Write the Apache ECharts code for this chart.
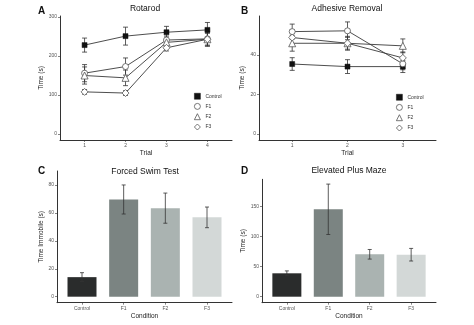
<!DOCTYPE html>
<html><head><meta charset="utf-8">
<script src="https://cdn.jsdelivr.net/npm/echarts@6/dist/echarts.min.js"></script>
<style>html,body{margin:0;padding:0;background:#fff}#c{width:474px;height:325px}</style>
</head><body><div id="c"></div>
<script>
// ---- Data ----
const trialsA = [1, 2, 3, 4];
const rotControl = [228, 251, 261, 267];
const rotControlErr = [18, 23, 15, 19];
const rotF1 = [156, 173, 241, 244];
const rotF1Err = [22, 22, 10, 18];
const rotF2 = [150, 144, 235, 243];
const rotF2Err = [22, 20, 10, 18];
const rotF3 = [108, 105, 221, 243];
const rotF3Err = [6, 6, 8, 15];

const trialsB = [1, 2, 3];
const adhControl = [35.4, 34.1, 34.1];
const adhControlErr = [3.2, 3.5, 3];
const adhF1 = [51.8, 52.2, 35.5];
const adhF1Err = [3.8, 4.5, 3];
const adhF2 = [45.9, 45.9, 44.6];
const adhF2Err = [4, 3.5, 3.5];
const adhF3 = [48.8, 45.9, 38.5];
const adhF3Err = [4, 3, 3];

const conditions = ['Control', 'F1', 'F2', 'F3'];
const fst = [14, 69.6, 63.4, 56.8];
const fstErr = [3.2, 10.4, 10.8, 7.4];
const epm = [39, 145.7, 70.7, 70];
const epmErr = [4, 42, 8, 10.5];

const ticksA = [0, 100, 200, 300];
const ticksB = [0, 20, 40];
const ticksC = [0, 20, 40, 60, 80];
const ticksD = [0, 50, 100, 150];

const groupNames = ['Control', 'F1', 'F2', 'F3'];
const barColors = ['#2a2c2c', '#7b8482', '#aab3b1', '#d3d8d7'];

// ---- Helpers ----
const FONT = 'Liberation Sans, Arial, sans-serif';
const axisCol = '#333';
function xAxisDef(gi, min, max, vals, fmt, name, gap) {
  return {
    gridIndex: gi, type: 'value', min: min, max: max,
    name: name, nameLocation: 'middle', nameGap: gap,
    nameTextStyle: {fontFamily: FONT, fontSize: 6.5, color: '#222'},
    axisLine: {onZero: false, lineStyle: {color: axisCol, width: 1}},
    axisTick: {customValues: vals, length: 2, lineStyle: {color: axisCol, width: 0.6}},
    axisLabel: {customValues: vals, fontSize: 5, color: '#555', margin: 3, fontFamily: FONT, formatter: fmt},
    splitLine: {show: false}
  };
}
function yAxisDef(gi, min, max, vals, name, gap) {
  return {
    gridIndex: gi, type: 'value', min: min, max: max,
    name: name, nameLocation: 'middle', nameGap: gap,
    nameTextStyle: {fontFamily: FONT, fontSize: 6.5, color: '#222'},
    axisLine: {onZero: false, lineStyle: {color: axisCol, width: 1}},
    axisTick: {customValues: vals, length: 2, lineStyle: {color: axisCol, width: 0.6}},
    axisLabel: {customValues: vals, fontSize: 5, color: '#555', margin: 3, fontFamily: FONT},
    splitLine: {show: false}
  };
}
function errSeries(gi, xs, ys, errs, capW, z) {
  return {
    type: 'custom', xAxisIndex: gi, yAxisIndex: gi, z: z || 2,
    encode: {x: 0, y: [1, 2]},
    data: xs.map((x, i) => [x, ys[i] - errs[i], ys[i] + errs[i]]),
    renderItem: function (params, api) {
      const x = api.value(0);
      const lo = api.coord([x, api.value(1)]);
      const hi = api.coord([x, api.value(2)]);
      const h = capW / 2;
      const st = {stroke: '#333', lineWidth: 0.8};
      return {type: 'group', children: [
        {type: 'line', shape: {x1: lo[0], y1: lo[1], x2: hi[0], y2: hi[1]}, style: st},
        {type: 'line', shape: {x1: lo[0] - h, y1: lo[1], x2: lo[0] + h, y2: lo[1]}, style: st},
        {type: 'line', shape: {x1: hi[0] - h, y1: hi[1], x2: hi[0] + h, y2: hi[1]}, style: st}
      ]};
    },
    silent: true
  };
}
const symDefs = [
  {symbol: 'rect', size: 5, item: {color: '#111', borderColor: '#111', borderWidth: 0.5}},
  {symbol: 'circle', size: 6, item: {color: '#fff', borderColor: '#555', borderWidth: 0.8}},
  {symbol: 'triangle', size: 7, item: {color: '#fff', borderColor: '#555', borderWidth: 0.8}},
  {symbol: 'diamond', size: 7, item: {color: '#fff', borderColor: '#555', borderWidth: 0.8}}
];
function lineSeries(gi, name, k, xs, ys) {
  return {
    type: 'line', name: name, xAxisIndex: gi, yAxisIndex: gi, z: 3,
    data: xs.map((x, i) => [x, ys[i]]),
    symbol: symDefs[k].symbol, symbolSize: symDefs[k].size,
    itemStyle: symDefs[k].item, showSymbol: true,
    lineStyle: {color: '#3a3a3a', width: 0.9},
    emphasis: {disabled: true}
  };
}
function legendDef(left, top) {
  return {
    left: left, top: top, padding: 0, orient: 'vertical', itemWidth: 6, itemHeight: 6, itemGap: 3.5,
    textStyle: {fontSize: 5, color: '#333', fontFamily: FONT}, selectedMode: false,
    data: groupNames.map((n, k) => ({
      name: n, icon: ['rect', 'circle', 'triangle', 'diamond'][k], itemStyle: symDefs[k].item
    }))
  };
}
const catFmt = v => conditions[Math.round(v) - 1] || '';
const catPos = conditions.map((c, i) => i + 1);

const series = [];
// Panel A
const rotVals = [rotControl, rotF1, rotF2, rotF3];
const rotErrs = [rotControlErr, rotF1Err, rotF2Err, rotF3Err];
rotVals.forEach((v, k) => series.push(errSeries(0, trialsA, v, rotErrs[k], 5)));
rotVals.forEach((v, k) => series.push(lineSeries(0, groupNames[k], k, trialsA, v)));
// Panel B
const adhVals = [adhControl, adhF1, adhF2, adhF3];
const adhErrs = [adhControlErr, adhF1Err, adhF2Err, adhF3Err];
adhVals.forEach((v, k) => series.push(errSeries(1, trialsB, v, adhErrs[k], 5)));
adhVals.forEach((v, k) => series.push(lineSeries(1, groupNames[k], k, trialsB, v)));
// Panel C
series.push({
  type: 'bar', xAxisIndex: 2, yAxisIndex: 2, barWidth: 29, z: 2,
  data: fst.map((v, i) => ({value: [catPos[i], v], itemStyle: {color: barColors[i]}})),
  emphasis: {disabled: true}
});
series.push(errSeries(2, catPos, fst, fstErr, 4, 4));
// Panel D
series.push({
  type: 'bar', xAxisIndex: 3, yAxisIndex: 3, barWidth: 29, z: 2,
  data: epm.map((v, i) => ({value: [catPos[i], v], itemStyle: {color: barColors[i]}})),
  emphasis: {disabled: true}
});
series.push(errSeries(3, catPos, epm, epmErr, 4, 4));

const txt = (x, y, s, size, bold) => ({
  type: 'text', x: x, y: y,
  style: {text: s, fontSize: size, fontWeight: bold ? 'bold' : 'normal', fill: '#111',
          fontFamily: FONT, align: bold ? 'left' : 'center', verticalAlign: 'middle'}
});

const option = {
  animation: false,
  backgroundColor: '#fff',
  grid: [
    {left: 60, top: 16, width: 172, height: 124, outerBoundsMode: 'none', containLabel: false},
    {left: 259, top: 16, width: 177, height: 124, outerBoundsMode: 'none', containLabel: false},
    {left: 57, top: 171, width: 175, height: 131.7, outerBoundsMode: 'none', containLabel: false},
    {left: 262, top: 179.3, width: 174, height: 123.4, outerBoundsMode: 'none', containLabel: false}
  ],
  xAxis: [
    xAxisDef(0, 0.4, 4.6, trialsA, null, 'Trial', 10),
    xAxisDef(1, 0.4, 3.6, trialsB, null, 'Trial', 10),
    xAxisDef(2, 0.4, 4.6, catPos, catFmt, 'Condition', 10),
    xAxisDef(3, 0.4, 4.6, catPos, catFmt, 'Condition', 10)
  ],
  yAxis: [
    yAxisDef(0, -15.4, 302.6, ticksA, 'Time (s)', 15),
    yAxisDef(1, -3.04, 59.7, ticksB, 'Time (s)', 13),
    yAxisDef(2, -4.3, 90, ticksC, 'Time Immobile (s)', 12),
    yAxisDef(3, -10, 195.7, ticksD, 'Time (s)', 15)
  ],
  legend: [legendDef(194, 93), legendDef(396, 94)],
  graphic: [
    txt(145, 9, 'Rotarod', 8.5),
    txt(347, 9, 'Adhesive Removal', 8.5),
    txt(145, 172, 'Forced Swim Test', 8.5),
    txt(349, 171, 'Elevated Plus Maze', 8.5),
    txt(38, 11, 'A', 10, true),
    txt(241, 11, 'B', 10, true),
    txt(38, 171, 'C', 10, true),
    txt(241, 171, 'D', 10, true)
  ],
  series: series
};
const chart = echarts.init(document.getElementById('c'), null, {renderer: 'canvas'});
chart.setOption(option);
</script></body></html>
